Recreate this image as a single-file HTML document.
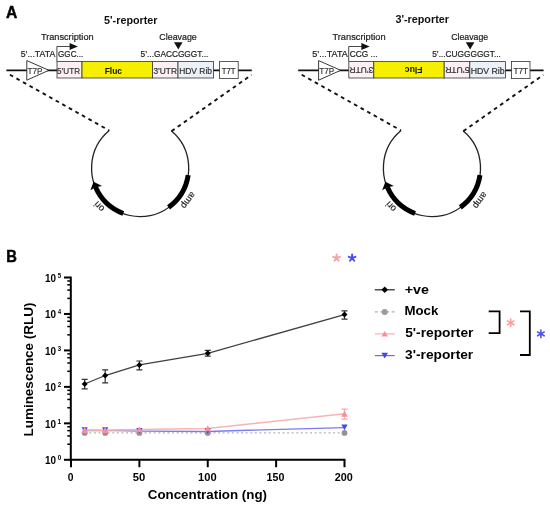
<!DOCTYPE html>
<html><head><meta charset="utf-8"><style>
html,body{margin:0;padding:0;background:#fff;width:550px;height:506px;overflow:hidden}
svg{display:block}
</style></head><body>
<svg width="550" height="506" viewBox="0 0 550 506">
<rect width="550" height="506" fill="#fff"/>
<g><path d="M56.9,61.6 V46.5 H71" fill="none" stroke="#333" stroke-width="0.9"/>
<polygon points="69.6,42.9 77.9,46.5 69.6,50.1" fill="#111"/>
<polygon points="174.0,42.3 182.6,42.3 178.3,49.5" fill="#111"/>
<line x1="6.4" y1="70.3" x2="251.8" y2="70.3" stroke="#111" stroke-width="1.7"/>
<polygon points="26.8,60.6 26.8,80.2 48.9,70.3" fill="#fff" stroke="#222" stroke-width="0.9"/>
<rect x="57.0" y="61.6" width="25.00" height="16.40" fill="#fdf0f5" stroke="#333" stroke-width="0.8"/>
<rect x="82.0" y="61.6" width="70.40" height="16.40" fill="#f6f000" stroke="#333" stroke-width="0.8"/>
<rect x="152.4" y="61.6" width="25.60" height="16.40" fill="#fdf0f5" stroke="#333" stroke-width="0.8"/>
<rect x="178.0" y="61.6" width="35.60" height="16.40" fill="#eaf1f9" stroke="#333" stroke-width="0.8"/>
<rect x="219.6" y="61.4" width="18.6" height="17.2" fill="#fff" stroke="#333" stroke-width="0.8"/>
<line x1="8.6" y1="74.0" x2="109.2" y2="130.5" stroke="#111" stroke-width="1.9" stroke-dasharray="3.7,3.81" stroke-dashoffset="-1.48"/>
<line x1="251.5" y1="74.9" x2="171.2" y2="131.4" stroke="#111" stroke-width="1.9" stroke-dasharray="3.7,3.79" stroke-dashoffset="-4.14"/>
<path d="M109.27,130.54 A48.55,48.55 0 1 0 171.23,130.70" fill="none" stroke="#222" stroke-width="1.3"/>
<path d="M123.23,213.51 A48.55,48.55 0 0 1 95.63,187.36" fill="none" stroke="#000" stroke-width="5.0"/>
<polygon points="93.60,181.79 102.01,185.95 95.59,187.28 90.39,190.36" fill="#000"/>
<path d="M188.17,175.18 A48.55,48.55 0 0 1 168.55,207.38" fill="none" stroke="#000" stroke-width="5.0"/>
<text x="0" y="3.1" transform="translate(99.1,206.6) rotate(-134)" text-anchor="middle" font-family="Liberation Sans, Arial, sans-serif" font-size="9.3" fill="#222" stroke="#222" stroke-width="0.15">ori</text>
<text x="0" y="3.1" transform="translate(188.4,200.4) rotate(126.4)" text-anchor="middle" font-family="Liberation Sans, Arial, sans-serif" font-size="9.3" fill="#222" stroke="#222" stroke-width="0.15">amp</text></g>
<g transform="translate(291.8,0)"><path d="M56.9,61.6 V46.5 H71" fill="none" stroke="#333" stroke-width="0.9"/>
<polygon points="69.6,42.9 77.9,46.5 69.6,50.1" fill="#111"/>
<polygon points="174.0,42.3 182.6,42.3 178.3,49.5" fill="#111"/>
<line x1="6.4" y1="70.3" x2="251.8" y2="70.3" stroke="#111" stroke-width="1.7"/>
<polygon points="26.8,60.6 26.8,80.2 48.9,70.3" fill="#fff" stroke="#222" stroke-width="0.9"/>
<rect x="57.0" y="61.6" width="25.00" height="16.40" fill="#fdf0f5" stroke="#333" stroke-width="0.8"/>
<rect x="82.0" y="61.6" width="70.40" height="16.40" fill="#f6f000" stroke="#333" stroke-width="0.8"/>
<rect x="152.4" y="61.6" width="25.60" height="16.40" fill="#fdf0f5" stroke="#333" stroke-width="0.8"/>
<rect x="178.0" y="61.6" width="35.60" height="16.40" fill="#eaf1f9" stroke="#333" stroke-width="0.8"/>
<rect x="219.6" y="61.4" width="18.6" height="17.2" fill="#fff" stroke="#333" stroke-width="0.8"/>
<line x1="8.6" y1="74.0" x2="109.2" y2="130.5" stroke="#111" stroke-width="1.9" stroke-dasharray="3.7,3.81" stroke-dashoffset="-1.48"/>
<line x1="251.5" y1="74.9" x2="171.2" y2="131.4" stroke="#111" stroke-width="1.9" stroke-dasharray="3.7,3.79" stroke-dashoffset="-4.14"/>
<path d="M109.27,130.54 A48.55,48.55 0 1 0 171.23,130.70" fill="none" stroke="#222" stroke-width="1.3"/>
<path d="M123.23,213.51 A48.55,48.55 0 0 1 95.63,187.36" fill="none" stroke="#000" stroke-width="5.0"/>
<polygon points="93.60,181.79 102.01,185.95 95.59,187.28 90.39,190.36" fill="#000"/>
<path d="M188.17,175.18 A48.55,48.55 0 0 1 168.55,207.38" fill="none" stroke="#000" stroke-width="5.0"/>
<text x="0" y="3.1" transform="translate(99.1,206.6) rotate(-134)" text-anchor="middle" font-family="Liberation Sans, Arial, sans-serif" font-size="9.3" fill="#222" stroke="#222" stroke-width="0.15">ori</text>
<text x="0" y="3.1" transform="translate(188.4,200.4) rotate(126.4)" text-anchor="middle" font-family="Liberation Sans, Arial, sans-serif" font-size="9.3" fill="#222" stroke="#222" stroke-width="0.15">amp</text></g>
<text x="104.07" y="23.70" textLength="53.49" lengthAdjust="spacingAndGlyphs" font-family="Liberation Sans, Arial, sans-serif" font-size="11.0" font-weight="bold" fill="#111">5&#39;-reporter</text>
<text x="40.90" y="39.80" textLength="52.70" lengthAdjust="spacingAndGlyphs" font-family="Liberation Sans, Arial, sans-serif" font-size="9.7" stroke="#222" stroke-width="0.22" fill="#222">Transcription</text>
<text x="159.35" y="40.00" textLength="37.44" lengthAdjust="spacingAndGlyphs" font-family="Liberation Sans, Arial, sans-serif" font-size="9.5" stroke="#222" stroke-width="0.22" fill="#222">Cleavage</text>
<text x="20.77" y="56.70" textLength="34.45" lengthAdjust="spacingAndGlyphs" font-family="Liberation Sans, Arial, sans-serif" font-size="9.2" stroke="#222" stroke-width="0.22" fill="#222">5&#8217;...TATA</text>
<text x="58.09" y="56.70" textLength="25.14" lengthAdjust="spacingAndGlyphs" font-family="Liberation Sans, Arial, sans-serif" font-size="9.2" stroke="#222" stroke-width="0.22" fill="#222">GGC...</text>
<text x="140.57" y="56.70" textLength="67.78" lengthAdjust="spacingAndGlyphs" font-family="Liberation Sans, Arial, sans-serif" font-size="9.2" stroke="#222" stroke-width="0.22" fill="#222">5&#8217;...GACCGGGT...</text>
<text x="27.52" y="74.00" textLength="14.91" lengthAdjust="spacingAndGlyphs" font-family="Liberation Sans, Arial, sans-serif" font-size="8.9" stroke="#3a3a3a" stroke-width="0.22" fill="#3a3a3a">T7P</text>
<text x="57.08" y="74.20" textLength="22.90" lengthAdjust="spacingAndGlyphs" font-family="Liberation Sans, Arial, sans-serif" font-size="8.9" stroke="#333" stroke-width="0.22" fill="#333">5&#8217;UTR</text>
<text x="104.63" y="74.00" textLength="17.41" lengthAdjust="spacingAndGlyphs" font-family="Liberation Sans, Arial, sans-serif" font-size="9.3" font-weight="bold" fill="#111">Fluc</text>
<text x="153.38" y="74.20" textLength="23.60" lengthAdjust="spacingAndGlyphs" font-family="Liberation Sans, Arial, sans-serif" font-size="8.9" stroke="#333" stroke-width="0.22" fill="#333">3&#8217;UTR</text>
<text x="179.21" y="74.20" textLength="32.74" lengthAdjust="spacingAndGlyphs" font-family="Liberation Sans, Arial, sans-serif" font-size="8.9" stroke="#333" stroke-width="0.22" fill="#333">HDV Rib</text>
<text x="221.73" y="74.20" textLength="13.75" lengthAdjust="spacingAndGlyphs" font-family="Liberation Sans, Arial, sans-serif" font-size="8.9" stroke="#333" stroke-width="0.22" fill="#333">T7T</text>
<text x="395.45" y="23.40" textLength="53.51" lengthAdjust="spacingAndGlyphs" font-family="Liberation Sans, Arial, sans-serif" font-size="11.0" font-weight="bold" fill="#111">3&#39;-reporter</text>
<text x="332.49" y="39.80" textLength="53.10" lengthAdjust="spacingAndGlyphs" font-family="Liberation Sans, Arial, sans-serif" font-size="9.7" stroke="#222" stroke-width="0.22" fill="#222">Transcription</text>
<text x="451.26" y="40.20" textLength="36.93" lengthAdjust="spacingAndGlyphs" font-family="Liberation Sans, Arial, sans-serif" font-size="9.5" stroke="#222" stroke-width="0.22" fill="#222">Cleavage</text>
<text x="312.26" y="56.70" textLength="35.46" lengthAdjust="spacingAndGlyphs" font-family="Liberation Sans, Arial, sans-serif" font-size="9.2" stroke="#222" stroke-width="0.22" fill="#222">5&#8217;...TATA</text>
<text x="349.78" y="56.70" textLength="27.78" lengthAdjust="spacingAndGlyphs" font-family="Liberation Sans, Arial, sans-serif" font-size="9.2" stroke="#222" stroke-width="0.22" fill="#222">CCG ...</text>
<text x="432.27" y="56.70" textLength="68.57" lengthAdjust="spacingAndGlyphs" font-family="Liberation Sans, Arial, sans-serif" font-size="9.2" stroke="#222" stroke-width="0.22" fill="#222">5&#8217;...CUGGGGGT...</text>
<text x="319.32" y="74.00" textLength="14.91" lengthAdjust="spacingAndGlyphs" font-family="Liberation Sans, Arial, sans-serif" font-size="8.9" stroke="#3a3a3a" stroke-width="0.22" fill="#3a3a3a">T7P</text>
<text x="349.28" y="74.20" textLength="23.81" lengthAdjust="spacingAndGlyphs" font-family="Liberation Sans, Arial, sans-serif" font-size="8.9" stroke="#333" stroke-width="0.22" fill="#333" transform="rotate(180,361.30,70.50)">3&#8217;UTR</text>
<text x="395.42" y="74.00" textLength="17.83" lengthAdjust="spacingAndGlyphs" font-family="Liberation Sans, Arial, sans-serif" font-size="9.3" font-weight="bold" fill="#111" transform="rotate(180,409.00,70.50)">Fluc</text>
<text x="444.56" y="74.20" textLength="24.24" lengthAdjust="spacingAndGlyphs" font-family="Liberation Sans, Arial, sans-serif" font-size="8.9" stroke="#333" stroke-width="0.22" fill="#333" transform="rotate(180,457.00,70.50)">5&#8217;UTR</text>
<text x="470.79" y="74.20" textLength="33.88" lengthAdjust="spacingAndGlyphs" font-family="Liberation Sans, Arial, sans-serif" font-size="8.9" stroke="#333" stroke-width="0.22" fill="#333">HDV Rib</text>
<text x="513.52" y="74.20" textLength="14.57" lengthAdjust="spacingAndGlyphs" font-family="Liberation Sans, Arial, sans-serif" font-size="8.9" stroke="#333" stroke-width="0.22" fill="#333">T7T</text>
<text x="6.21" y="261.90" textLength="10.66" lengthAdjust="spacingAndGlyphs" font-family="Liberation Sans, Arial, sans-serif" font-size="16.2" font-weight="bold" fill="#000" stroke="#000" stroke-width="0.45">B</text>
<text x="6.01" y="17.50" textLength="11.30" lengthAdjust="spacingAndGlyphs" font-family="Liberation Sans, Arial, sans-serif" font-size="16.6" font-weight="bold" fill="#000" stroke="#000" stroke-width="0.45">A</text>
<line x1="70.8" y1="276.6" x2="70.8" y2="460.8" stroke="#000" stroke-width="2"/>
<line x1="69.8" y1="459.8" x2="345.4" y2="459.8" stroke="#000" stroke-width="2"/>
<line x1="64" y1="459.80" x2="70.8" y2="459.80" stroke="#000" stroke-width="2"/>
<text x="44.88" y="464.10" textLength="11.03" lengthAdjust="spacingAndGlyphs" font-family="Liberation Sans, Arial, sans-serif" font-size="11.4" font-weight="bold" fill="#000">10</text>
<text x="57.75" y="460.30" textLength="3.51" lengthAdjust="spacingAndGlyphs" font-family="Liberation Sans, Arial, sans-serif" font-size="6.6" font-weight="bold" fill="#000">0</text>
<line x1="67.3" y1="444.23" x2="70.8" y2="444.23" stroke="#000" stroke-width="1.5"/>
<line x1="67.3" y1="435.92" x2="70.8" y2="435.92" stroke="#000" stroke-width="1.5"/>
<line x1="67.3" y1="430.63" x2="70.8" y2="430.63" stroke="#000" stroke-width="1.5"/>
<line x1="67.3" y1="426.80" x2="70.8" y2="426.80" stroke="#000" stroke-width="1.5"/>
<line x1="64" y1="423.34" x2="70.8" y2="423.34" stroke="#000" stroke-width="2"/>
<text x="44.88" y="427.64" textLength="11.03" lengthAdjust="spacingAndGlyphs" font-family="Liberation Sans, Arial, sans-serif" font-size="11.4" font-weight="bold" fill="#000">10</text>
<text x="57.59" y="423.84" textLength="3.59" lengthAdjust="spacingAndGlyphs" font-family="Liberation Sans, Arial, sans-serif" font-size="6.6" font-weight="bold" fill="#000">1</text>
<line x1="67.3" y1="407.77" x2="70.8" y2="407.77" stroke="#000" stroke-width="1.5"/>
<line x1="67.3" y1="399.46" x2="70.8" y2="399.46" stroke="#000" stroke-width="1.5"/>
<line x1="67.3" y1="394.17" x2="70.8" y2="394.17" stroke="#000" stroke-width="1.5"/>
<line x1="67.3" y1="390.34" x2="70.8" y2="390.34" stroke="#000" stroke-width="1.5"/>
<line x1="64" y1="386.88" x2="70.8" y2="386.88" stroke="#000" stroke-width="2"/>
<text x="44.88" y="391.18" textLength="11.03" lengthAdjust="spacingAndGlyphs" font-family="Liberation Sans, Arial, sans-serif" font-size="11.4" font-weight="bold" fill="#000">10</text>
<text x="57.78" y="387.38" textLength="3.47" lengthAdjust="spacingAndGlyphs" font-family="Liberation Sans, Arial, sans-serif" font-size="6.6" font-weight="bold" fill="#000">2</text>
<line x1="67.3" y1="371.31" x2="70.8" y2="371.31" stroke="#000" stroke-width="1.5"/>
<line x1="67.3" y1="363.00" x2="70.8" y2="363.00" stroke="#000" stroke-width="1.5"/>
<line x1="67.3" y1="357.71" x2="70.8" y2="357.71" stroke="#000" stroke-width="1.5"/>
<line x1="67.3" y1="353.88" x2="70.8" y2="353.88" stroke="#000" stroke-width="1.5"/>
<line x1="64" y1="350.42" x2="70.8" y2="350.42" stroke="#000" stroke-width="2"/>
<text x="44.88" y="354.72" textLength="11.03" lengthAdjust="spacingAndGlyphs" font-family="Liberation Sans, Arial, sans-serif" font-size="11.4" font-weight="bold" fill="#000">10</text>
<text x="57.86" y="350.92" textLength="3.36" lengthAdjust="spacingAndGlyphs" font-family="Liberation Sans, Arial, sans-serif" font-size="6.6" font-weight="bold" fill="#000">3</text>
<line x1="67.3" y1="334.85" x2="70.8" y2="334.85" stroke="#000" stroke-width="1.5"/>
<line x1="67.3" y1="326.54" x2="70.8" y2="326.54" stroke="#000" stroke-width="1.5"/>
<line x1="67.3" y1="321.25" x2="70.8" y2="321.25" stroke="#000" stroke-width="1.5"/>
<line x1="67.3" y1="317.42" x2="70.8" y2="317.42" stroke="#000" stroke-width="1.5"/>
<line x1="64" y1="313.96" x2="70.8" y2="313.96" stroke="#000" stroke-width="2"/>
<text x="44.88" y="318.26" textLength="11.03" lengthAdjust="spacingAndGlyphs" font-family="Liberation Sans, Arial, sans-serif" font-size="11.4" font-weight="bold" fill="#000">10</text>
<text x="57.92" y="314.46" textLength="3.11" lengthAdjust="spacingAndGlyphs" font-family="Liberation Sans, Arial, sans-serif" font-size="6.6" font-weight="bold" fill="#000">4</text>
<line x1="67.3" y1="298.39" x2="70.8" y2="298.39" stroke="#000" stroke-width="1.5"/>
<line x1="67.3" y1="290.08" x2="70.8" y2="290.08" stroke="#000" stroke-width="1.5"/>
<line x1="67.3" y1="284.79" x2="70.8" y2="284.79" stroke="#000" stroke-width="1.5"/>
<line x1="67.3" y1="280.96" x2="70.8" y2="280.96" stroke="#000" stroke-width="1.5"/>
<line x1="64" y1="277.50" x2="70.8" y2="277.50" stroke="#000" stroke-width="2"/>
<text x="44.88" y="281.80" textLength="11.03" lengthAdjust="spacingAndGlyphs" font-family="Liberation Sans, Arial, sans-serif" font-size="11.4" font-weight="bold" fill="#000">10</text>
<text x="57.81" y="278.00" textLength="3.35" lengthAdjust="spacingAndGlyphs" font-family="Liberation Sans, Arial, sans-serif" font-size="6.6" font-weight="bold" fill="#000">5</text>
<line x1="71.00" y1="459.8" x2="71.00" y2="467.2" stroke="#000" stroke-width="2"/>
<text x="67.79" y="480.50" textLength="5.73" lengthAdjust="spacingAndGlyphs" font-family="Liberation Sans, Arial, sans-serif" font-size="11.2" font-weight="bold" fill="#000">0</text>
<line x1="139.38" y1="459.8" x2="139.38" y2="467.2" stroke="#000" stroke-width="2"/>
<text x="132.75" y="480.50" textLength="12.51" lengthAdjust="spacingAndGlyphs" font-family="Liberation Sans, Arial, sans-serif" font-size="11.2" font-weight="bold" fill="#000">50</text>
<line x1="207.75" y1="459.8" x2="207.75" y2="467.2" stroke="#000" stroke-width="2"/>
<text x="198.10" y="480.50" textLength="18.56" lengthAdjust="spacingAndGlyphs" font-family="Liberation Sans, Arial, sans-serif" font-size="11.2" font-weight="bold" fill="#000">100</text>
<line x1="276.12" y1="459.8" x2="276.12" y2="467.2" stroke="#000" stroke-width="2"/>
<text x="266.53" y="480.50" textLength="17.81" lengthAdjust="spacingAndGlyphs" font-family="Liberation Sans, Arial, sans-serif" font-size="11.2" font-weight="bold" fill="#000">150</text>
<line x1="344.50" y1="459.8" x2="344.50" y2="467.2" stroke="#000" stroke-width="2"/>
<text x="334.83" y="480.50" textLength="18.02" lengthAdjust="spacingAndGlyphs" font-family="Liberation Sans, Arial, sans-serif" font-size="11.2" font-weight="bold" fill="#000">200</text>
<text x="147.75" y="499.00" textLength="119.31" lengthAdjust="spacingAndGlyphs" font-family="Liberation Sans, Arial, sans-serif" font-size="13.7" font-weight="bold" fill="#000">Concentration (ng)</text>
<text x="-0.90" y="0" textLength="134.17" lengthAdjust="spacingAndGlyphs" transform="translate(33.2,435.7) rotate(-90)" font-family="Liberation Sans, Arial, sans-serif" font-weight="bold" font-size="13.7" fill="#000">Luminescence (RLU)</text>
<polyline points="84.67,432.95 105.19,432.95 139.38,432.95 207.75,432.95 344.50,432.95" fill="none" stroke="#b4b4b4" stroke-width="1.3" stroke-dasharray="2,2.6"/>
<polyline points="84.67,430.51 105.19,430.41 139.38,431.17 207.75,431.43 344.50,427.58" fill="none" stroke="#7b7bf2" stroke-width="1.4"/>
<polyline points="84.67,430.02 105.19,430.16 139.38,429.45 207.75,428.43 344.50,413.77" fill="none" stroke="#f8b4b4" stroke-width="1.6"/>
<polyline points="84.67,383.99 105.19,375.51 139.38,364.93 207.75,353.37 344.50,314.61" fill="none" stroke="#404040" stroke-width="1.3"/>
<circle cx="84.67" cy="432.95" r="2.9" fill="#929298"/>
<circle cx="105.19" cy="432.95" r="2.9" fill="#929298"/>
<circle cx="139.38" cy="432.95" r="2.9" fill="#929298"/>
<circle cx="207.75" cy="432.95" r="2.9" fill="#929298"/>
<circle cx="344.50" cy="432.95" r="2.9" fill="#929298"/>
<polygon points="81.58,427.31 87.77,427.31 84.67,433.11" fill="#4545f5"/>
<polygon points="102.09,427.21 108.29,427.21 105.19,433.01" fill="#4545f5"/>
<polygon points="136.28,427.97 142.47,427.97 139.38,433.77" fill="#4545f5"/>
<polygon points="204.65,428.23 210.85,428.23 207.75,434.03" fill="#4545f5"/>
<polygon points="341.40,424.38 347.60,424.38 344.50,430.18" fill="#4545f5"/>
<path d="M344.50,419.10 V409.10 M341.50,419.10 H347.50 M341.50,409.10 H347.50" fill="none" stroke="#f8a8ac" stroke-width="1.3"/>
<polygon points="81.47,432.92 87.88,432.92 84.67,426.72" fill="#fa8e9a"/>
<polygon points="101.99,433.06 108.39,433.06 105.19,426.86" fill="#fa8e9a"/>
<polygon points="136.18,432.35 142.57,432.35 139.38,426.15" fill="#fa8e9a"/>
<polygon points="204.55,431.33 210.95,431.33 207.75,425.13" fill="#fa8e9a"/>
<polygon points="341.30,416.67 347.70,416.67 344.50,410.47" fill="#fa8e9a"/>
<path d="M84.67,388.80 V379.30 M81.67,388.80 H87.67 M81.67,379.30 H87.67" fill="none" stroke="#333" stroke-width="1.2"/>
<polygon points="84.67,380.99 87.67,383.99 84.67,386.99 81.67,383.99" fill="#000"/>
<path d="M105.19,382.90 V369.80 M102.19,382.90 H108.19 M102.19,369.80 H108.19" fill="none" stroke="#333" stroke-width="1.2"/>
<polygon points="105.19,372.51 108.19,375.51 105.19,378.51 102.19,375.51" fill="#000"/>
<path d="M139.38,369.80 V361.00 M136.38,369.80 H142.38 M136.38,361.00 H142.38" fill="none" stroke="#333" stroke-width="1.2"/>
<polygon points="139.38,361.93 142.38,364.93 139.38,367.93 136.38,364.93" fill="#000"/>
<path d="M207.75,356.20 V350.40 M204.75,356.20 H210.75 M204.75,350.40 H210.75" fill="none" stroke="#333" stroke-width="1.2"/>
<polygon points="207.75,350.37 210.75,353.37 207.75,356.37 204.75,353.37" fill="#000"/>
<path d="M344.50,319.20 V310.80 M341.50,319.20 H347.50 M341.50,310.80 H347.50" fill="none" stroke="#333" stroke-width="1.2"/>
<polygon points="344.50,311.61 347.50,314.61 344.50,317.61 341.50,314.61" fill="#000"/>
<line x1="374.8" y1="289.8" x2="394.8" y2="289.8" stroke="#222" stroke-width="1.2"/>
<polygon points="384.7,286.5 388.0,289.8 384.7,293.1 381.4,289.8" fill="#000"/>
<line x1="374.8" y1="311.9" x2="394.8" y2="311.9" stroke="#b0b0b0" stroke-width="1.2" stroke-dasharray="3,2.6"/>
<circle cx="384.7" cy="311.9" r="3.0" fill="#9a9aa0"/>
<line x1="374.8" y1="333.9" x2="394.8" y2="333.9" stroke="#f9b0b0" stroke-width="1.2"/>
<polygon points="381.4,336.6 388.0,336.6 384.7,330.9" fill="#fa8e9a"/>
<line x1="374.8" y1="355.6" x2="394.8" y2="355.6" stroke="#6a6af5" stroke-width="1.2"/>
<polygon points="381.4,352.8 388.0,352.8 384.7,358.6" fill="#4545f5"/>
<text x="404.70" y="293.60" textLength="24.19" lengthAdjust="spacingAndGlyphs" font-family="Liberation Sans, Arial, sans-serif" font-size="13.7" font-weight="bold" fill="#000">+ve</text>
<text x="404.51" y="315.30" textLength="33.87" lengthAdjust="spacingAndGlyphs" font-family="Liberation Sans, Arial, sans-serif" font-size="13.7" font-weight="bold" fill="#000">Mock</text>
<text x="405.18" y="337.00" textLength="68.23" lengthAdjust="spacingAndGlyphs" font-family="Liberation Sans, Arial, sans-serif" font-size="13.7" font-weight="bold" fill="#000">5&#39;-reporter</text>
<text x="405.08" y="359.00" textLength="68.12" lengthAdjust="spacingAndGlyphs" font-family="Liberation Sans, Arial, sans-serif" font-size="13.7" font-weight="bold" fill="#000">3&#39;-reporter</text>
<path d="M488.7,311.3 H499.6 V333.1 H488.7" fill="none" stroke="#000" stroke-width="1.8"/>
<path d="M520,311.3 H529.8 V355 H520" fill="none" stroke="#000" stroke-width="1.8"/>
<path d="M510.70,322.80 L510.70,319.00 M510.70,322.80 L513.99,320.90 M510.70,322.80 L513.99,324.70 M510.70,322.80 L510.70,326.60 M510.70,322.80 L507.41,324.70 M510.70,322.80 L507.41,320.90" stroke="#f8a0a0" stroke-width="1.6" stroke-linecap="round" fill="none"/>
<path d="M540.90,333.90 L540.90,330.10 M540.90,333.90 L544.19,332.00 M540.90,333.90 L544.19,335.80 M540.90,333.90 L540.90,337.70 M540.90,333.90 L537.61,335.80 M540.90,333.90 L537.61,332.00" stroke="#5050f0" stroke-width="1.6" stroke-linecap="round" fill="none"/>
<path d="M336.60,257.90 L336.60,254.40 M336.60,257.90 L339.93,256.82 M336.60,257.90 L338.66,260.73 M336.60,257.90 L334.54,260.73 M336.60,257.90 L333.27,256.82" stroke="#f8a0a4" stroke-width="1.9" stroke-linecap="round" fill="none"/>
<path d="M352.10,257.90 L352.10,254.40 M352.10,257.90 L355.43,256.82 M352.10,257.90 L354.16,260.73 M352.10,257.90 L350.04,260.73 M352.10,257.90 L348.77,256.82" stroke="#4a4af4" stroke-width="1.9" stroke-linecap="round" fill="none"/>
</svg>
</body></html>
